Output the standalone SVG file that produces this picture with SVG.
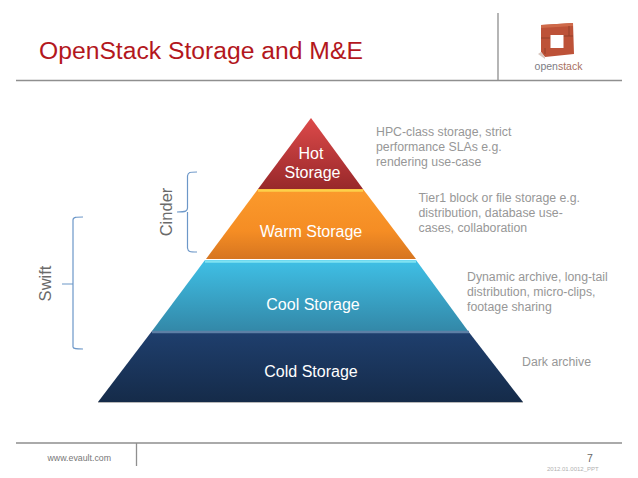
<svg xmlns="http://www.w3.org/2000/svg" width="638" height="478" viewBox="0 0 638 478">
<style>
.t{font-family:"Liberation Sans",Arial,sans-serif}
.lab{font-size:16px;fill:#fff;text-anchor:middle}
.note{font-size:12.3px;fill:#979797}
.side{font-size:16.5px;fill:#6a6a6a;text-anchor:middle}
.rule{stroke:#8f8f8f;stroke-width:1.3;fill:none}
.brace{stroke:#6c97c8;stroke-width:1.2;fill:none}
</style>
<defs>
<linearGradient id="gh" x1="0" y1="0" x2="0" y2="1"><stop offset="0" stop-color="#dd4a4a"/><stop offset="1" stop-color="#98282a"/></linearGradient>
<linearGradient id="gw" x1="0" y1="0" x2="0" y2="1"><stop offset="0" stop-color="#fb9a2c"/><stop offset=".6" stop-color="#f58d24"/><stop offset="1" stop-color="#d67520"/></linearGradient>
<linearGradient id="gc" x1="0" y1="0" x2="0" y2="1"><stop offset="0" stop-color="#3fc0e6"/><stop offset="1" stop-color="#3388a8"/></linearGradient>
<linearGradient id="gd" x1="0" y1="0" x2="0" y2="1"><stop offset="0" stop-color="#1f3f6e"/><stop offset="1" stop-color="#152b49"/></linearGradient>
</defs>
<rect width="638" height="478" fill="#fff"/>
<g id="header">
<text class="t" x="39" y="58.500" font-size="24.700" fill="#b3171d">OpenStack Storage and M&amp;E</text>
<path class="rule" d="M16 80.500H622M498 13V80"/>
</g>
<g id="logo">
<path d="M541 25L573 23L574 54L545 57L541 52Z" fill="#bd5238"/>
<path d="M541 25L573 23V26L541 28Z" fill="#cf6a4a"/>
<path d="M541 52L545 57V59L538 54Z" fill="#d9c8c0"/>
<path d="M541 38H550M563 36H573M545 48V54M569 26V36" stroke="#93402b" stroke-width="1"/>
<rect x="550.500" y="35" width="13" height="13" fill="#fff"/>
<text class="t" x="558.500" y="69.500" font-size="10.500" text-anchor="middle" fill="#7d7d85">open<tspan fill="#a8705f">stack</tspan></text>
</g>
<g id="hot">
<path d="M311 118L363 189H258Z" fill="url(#gh)"/>
<text class="t lab" x="311" y="159">Hot</text>
<text class="t lab" x="312.500" y="178">Storage</text>
</g>
<g id="warm">
<path d="M258 189H363L416 259H206Z" fill="url(#gw)"/>
<path d="M258 190.500H363" stroke="#fdd04a" stroke-width="2.500"/>
<text class="t lab" x="311" y="237">Warm Storage</text>
</g>
<g id="cool">
<path d="M205 260H416L468 331H152Z" fill="url(#gc)"/>
<path d="M205 261.500H416" stroke="#7fe2f2" stroke-width="2.500"/>
<text class="t lab" x="313" y="310">Cool Storage</text>
</g>
<g id="cold">
<path d="M152 331H468L523 402H98Z" fill="url(#gd)"/>
<path d="M152 332H469" stroke="#5d7fa6" stroke-width="2.500"/>
<path d="M98 402.500H523" stroke="#b8b8b8" stroke-width="1"/>
<text class="t lab" x="311" y="377">Cold Storage</text>
</g>
<g id="notes">
<text class="t note" x="376" y="136">HPC-class storage, strict</text>
<text class="t note" x="376" y="151">performance SLAs e.g.</text>
<text class="t note" x="376" y="166">rendering use-case</text>
<text class="t note" x="418.500" y="202">Tier1 block or file storage e.g.</text>
<text class="t note" x="418.500" y="217">distribution, database use-</text>
<text class="t note" x="418.500" y="232">cases, collaboration</text>
<text class="t note" x="467" y="281">Dynamic archive, long-tail</text>
<text class="t note" x="467" y="296">distribution, micro-clips,</text>
<text class="t note" x="467" y="311">footage sharing</text>
<text class="t note" x="522" y="366">Dark archive</text>
</g>
<g id="connectors">
<path class="brace" d="M197 172C190 172 188 172 187.500 176V208C187.500 211 186 212 177 212M187.500 212V248C188 252 190 252 197 252"/>
<path class="brace" d="M83 217C76 217 73 217 73 220V284H62M73 284V347C73 349 76 349 83 349"/>
</g>
<g id="cinder"><text class="t side" transform="translate(171.500 212) rotate(-90)">Cinder</text></g>
<g id="swift"><text class="t side" transform="translate(51 283.500) rotate(-90)">Swift</text></g>
<g id="footer">
<path class="rule" d="M16 443H622M136.500 443V466"/>
<text class="t" x="47.500" y="461" font-size="8.800" fill="#777">www.evault.com</text>
<text class="t" x="587" y="462" font-size="10.500" fill="#666">7</text>
<text class="t" x="547" y="470.500" font-size="6" fill="#b0b0b0">2012.01.0012_PPT</text>
</g>
</svg>
